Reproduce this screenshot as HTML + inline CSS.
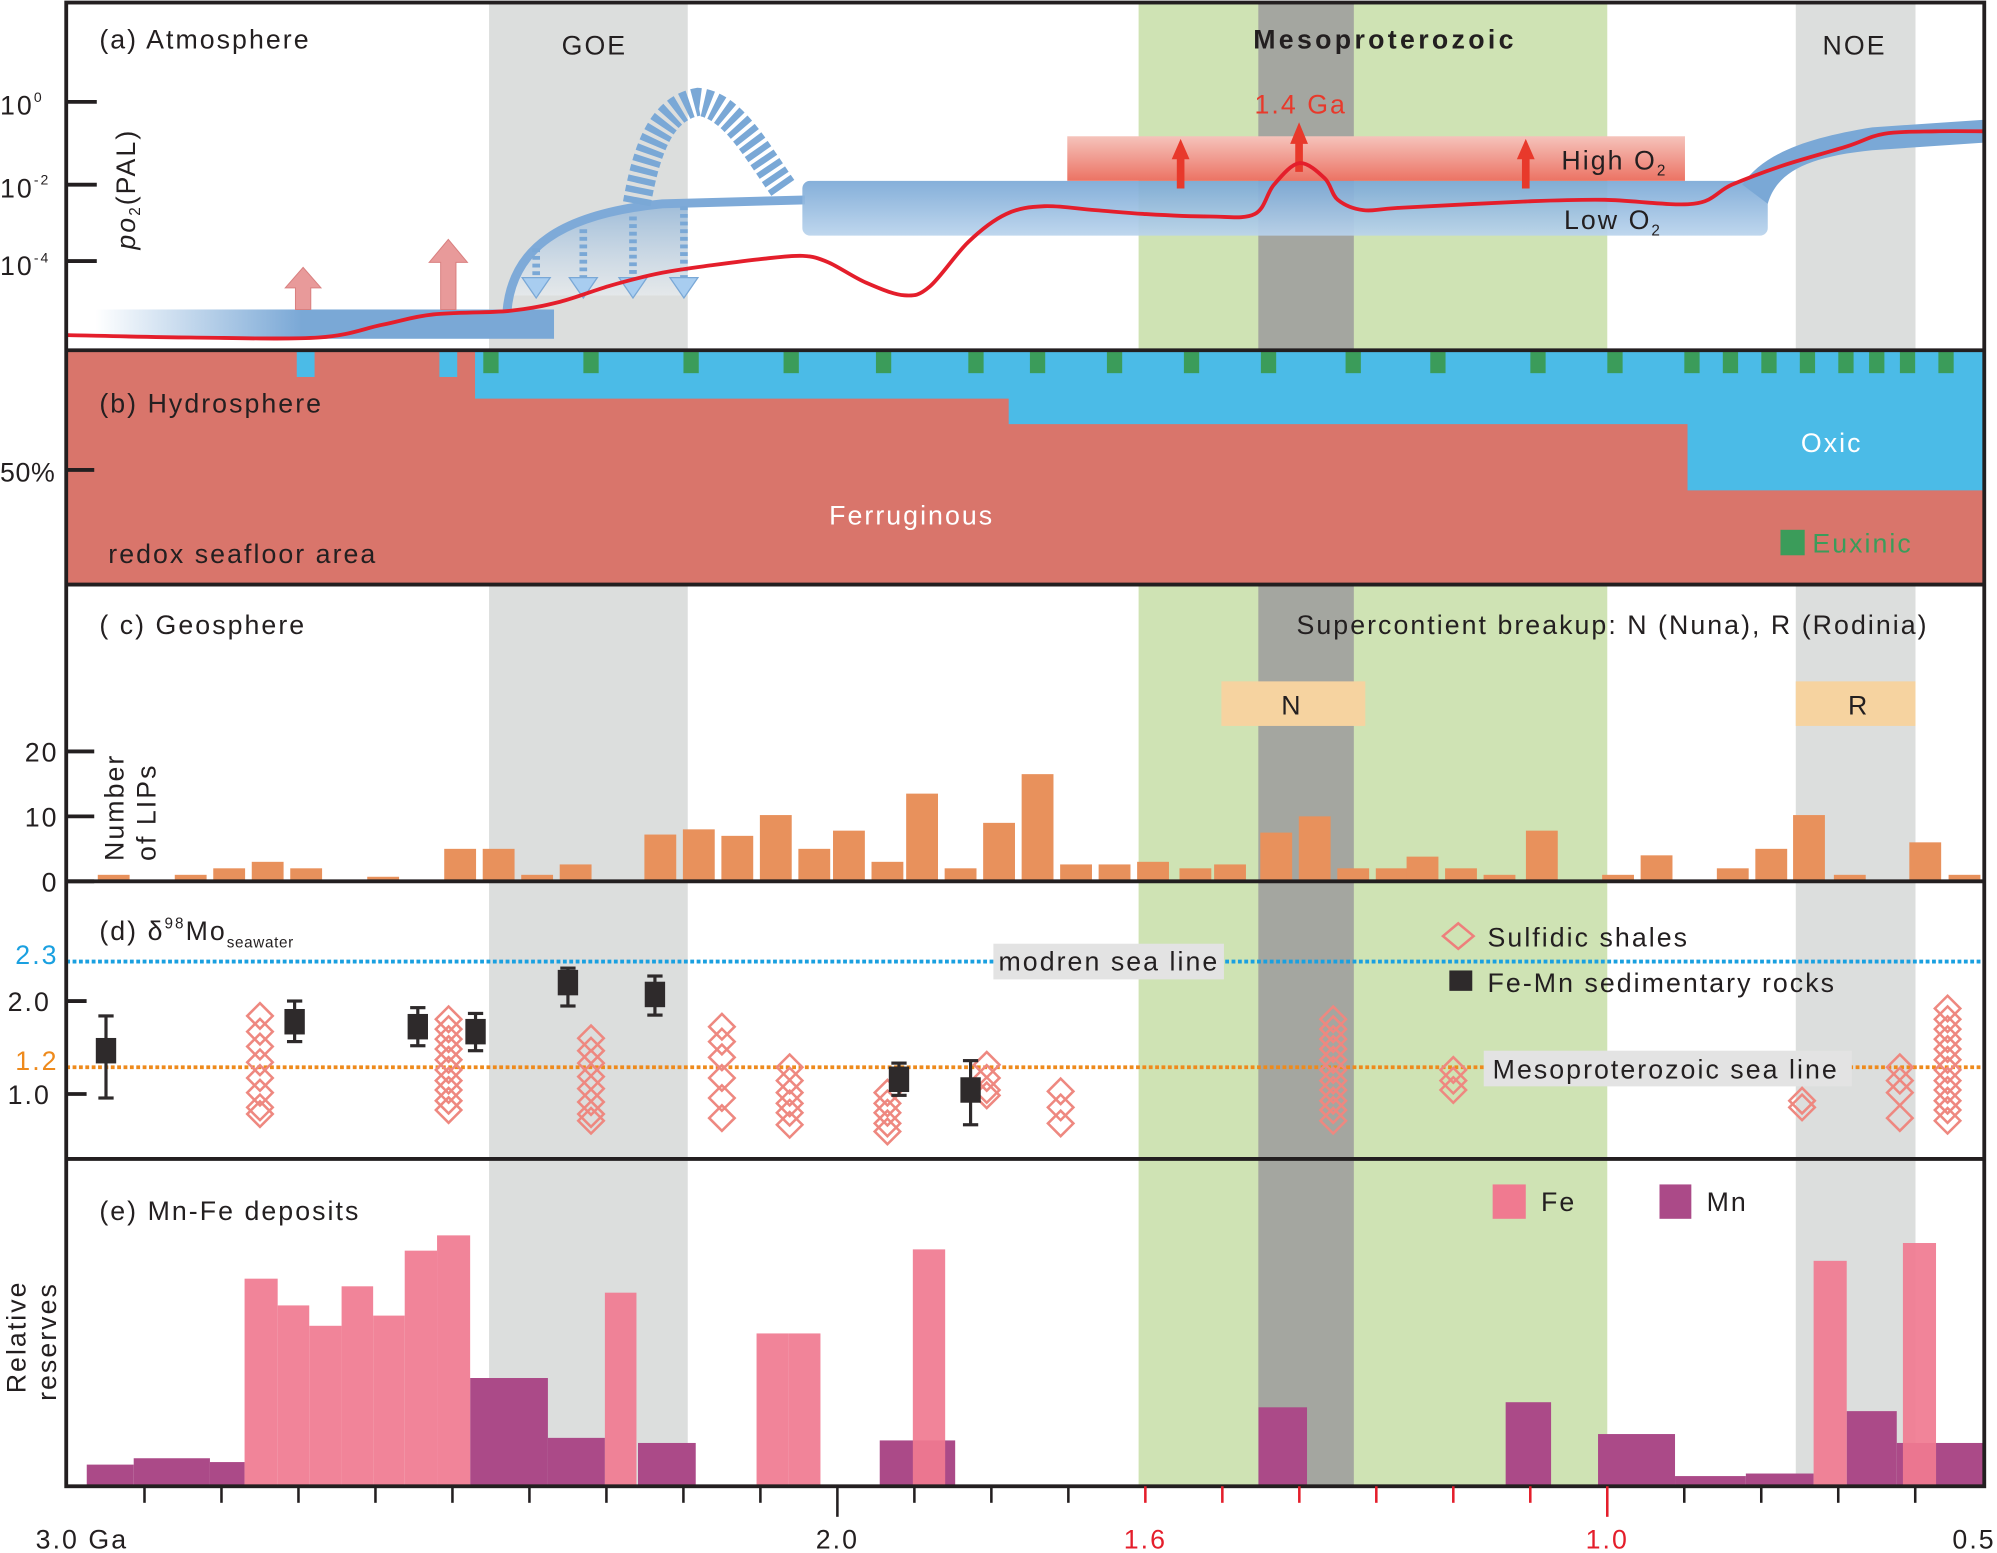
<!DOCTYPE html>
<html><head><meta charset="utf-8"><style>
html,body{margin:0;padding:0;background:#fff}
svg{display:block}
text{font-family:"Liberation Sans",sans-serif;fill:#231f20;letter-spacing:1.6px}
</style></head><body>
<svg id="fig" width="1997" height="1553" viewBox="0 0 1568 1219.4" preserveAspectRatio="none" xmlns="http://www.w3.org/2000/svg">
<defs>
<linearGradient id="gLow" x1="0" x2="1" y1="0" y2="0"><stop offset="0" stop-color="#7aa8d6" stop-opacity="0"/><stop offset="0.45" stop-color="#7aa8d6"/><stop offset="1" stop-color="#7aa8d6"/></linearGradient>
<linearGradient id="gBand" x1="0" x2="0" y1="0" y2="1"><stop offset="0" stop-color="#7aa8d6"/><stop offset="1" stop-color="#b9d3ec"/></linearGradient>
<linearGradient id="gHigh" x1="0" x2="0" y1="0" y2="1"><stop offset="0" stop-color="#f5c3bb"/><stop offset="1" stop-color="#ec7364"/></linearGradient>
<linearGradient id="gFan" x1="0" x2="0" y1="0" y2="1"><stop offset="0" stop-color="#7aa8d6" stop-opacity="0.9"/><stop offset="1" stop-color="#ffffff" stop-opacity="0.6"/></linearGradient>
</defs>
<g id="bands">
<rect x="384" y="2" width="156" height="1165" fill="#dcdedd"/>
<rect x="894" y="2" width="368" height="1165" fill="#cfe3b4"/>
<rect x="988" y="2" width="75" height="1165" fill="#a4a6a0"/>
<rect x="1410" y="2" width="94" height="1165" fill="#dcdedd"/>
</g>
<g>
<rect x="75" y="243" width="360" height="23" fill="url(#gLow)"/>
<path d="M398,243 C405,195 440,172 500,163 L540,160 L540,232 L398,232 Z" fill="url(#gFan)" opacity="0.7"/>
<path d="M398,245 C402,195 440,168 520,160 L632,157" fill="none" stroke="#7eaad8" stroke-width="7"/>
<path d="M500,160 C508,115 520,85 548,80 C575,82 595,120 615,148" fill="none" stroke="#7aa8d6" stroke-width="22" stroke-dasharray="5 3"/>
<g fill="#a8cdf0" stroke="#7aa8d6" stroke-width="1">
<path d="M410,218 L432,218 L421,234 Z"/><path d="M447,218 L469,218 L458,234 Z"/><path d="M486,218 L508,218 L497,234 Z"/><path d="M526,218 L548,218 L537,234 Z"/>
</g>
<g stroke="#7aa8d6" stroke-width="6" stroke-dasharray="3 3"><line x1="421" y1="195" x2="421" y2="218"/><line x1="458" y1="180" x2="458" y2="218"/><line x1="497" y1="170" x2="497" y2="218"/><line x1="537" y1="162" x2="537" y2="218"/></g>
<rect x="630" y="142" width="758" height="43" rx="6" fill="url(#gBand)" opacity="0.92"/>
<path d="M1368,145 C1385,120 1420,108 1470,100 L1558,94 L1558,112 L1470,118 C1420,123 1395,135 1388,160 Z" fill="#7aa8d6"/>
<rect x="838" y="107" width="485" height="35" fill="url(#gHigh)"/>
<g fill="#e89a9a" stroke="#d98080" stroke-width="0.8">
<path d="M232,243 L232,226 L224,226 L238,210 L252,226 L244,226 L244,243 Z"/>
<path d="M346,243 L346,206 L337,206 L352,188 L367,206 L358,206 L358,243 Z"/>
</g>
<g fill="#e8392b">
<path d="M924,148 L924,125 L920,125 L927,109 L934,125 L930,125 L930,148 Z"/>
<path d="M1017,135 L1017,113 L1013,113 L1020,96 L1027,113 L1023,113 L1023,135 Z"/>
<path d="M1195,148 L1195,125 L1191,125 L1198,109 L1205,125 L1201,125 L1201,148 Z"/>
</g>
<path id="o2line" fill="none" stroke="#e41e2b" stroke-width="3"/>
<text x="985" y="89" font-size="21" style="fill:#e8392b">1.4 Ga</text>
<text x="1226" y="133" font-size="21">High O<tspan font-size="12" dy="5">2</tspan></text>
<text x="1228" y="180" font-size="21">Low O<tspan font-size="12" dy="5">2</tspan></text>
<text x="78" y="38" font-size="21">(a)  Atmosphere</text>
<text x="441" y="43" font-size="21">GOE</text>
<text x="984" y="38" font-size="21" font-weight="bold" style="letter-spacing:2.6px">Mesoproterozoic</text>
<text x="1431" y="43" font-size="21">NOE</text>
<text transform="translate(106,196) rotate(-90)" font-size="21"><tspan font-style="italic">po</tspan><tspan font-size="12" dy="4">2</tspan><tspan dy="-4">(PAL)</tspan></text>
<g stroke="#231f20" stroke-width="3"><line x1="52" y1="80" x2="76" y2="80"/><line x1="52" y1="145" x2="76" y2="145"/><line x1="52" y1="205" x2="76" y2="205"/></g>
<text x="0" y="90" font-size="21">10<tspan font-size="11" dy="-10">0</tspan></text>
<text x="0" y="155" font-size="21">10<tspan font-size="11" dy="-10">-2</tspan></text>
<text x="0" y="216" font-size="21">10<tspan font-size="11" dy="-10">-4</tspan></text>
</g>
<g>
<rect x="52" y="276" width="1506" height="183" fill="#d9756b"/>
<path fill="#4bbbe7" d="M373,276 L1558,276 L1558,385 L1325,385 L1325,333 L792,333 L792,313 L373,313 Z"/>
<rect x="233" y="276" width="14" height="20" fill="#4bbbe7"/>
<rect x="345" y="276" width="14" height="20" fill="#4bbbe7"/>
<g id="euxinic" fill="#3b9c5a"></g>
<text x="78" y="324" font-size="21">(b)  Hydrosphere</text>
<text x="651" y="412" font-size="21" style="fill:#fff">Ferruginous</text>
<text x="85" y="442" font-size="21">redox seafloor area</text>
<text x="1414" y="355" font-size="21" style="fill:#fff">Oxic</text>
<rect x="1398" y="416" width="19" height="20" fill="#3b9c5a"/>
<text x="1423" y="434" font-size="21" style="fill:#3b9c5a">Euxinic</text>
<line x1="52" y1="369" x2="74" y2="369" stroke="#231f20" stroke-width="3"/>
<text x="0" y="378" font-size="21" style="letter-spacing:0.5px">50%</text>
</g>
<g>
<text x="78" y="498" font-size="21">( c)  Geosphere</text>
<text x="1018" y="498" font-size="21">Supercontient breakup:  N (Nuna), R (Rodinia)</text>
<rect x="959" y="535" width="113" height="35" fill="#f6d3a0"/>
<text x="1006" y="561" font-size="21">N</text>
<rect x="1410" y="535" width="94" height="35" fill="#f6d3a0"/>
<text x="1451" y="561" font-size="21">R</text>
<g id="lipBars" fill="#e8915c"></g>
<text transform="translate(97,676) rotate(-90)" font-size="21">Number</text>
<text transform="translate(122,676) rotate(-90)" font-size="21">of LIPs</text>
<g id="lipTicks"></g>
</g>
<g>
<text x="78" y="738" font-size="21">(d)  δ<tspan font-size="12" dy="-9">98</tspan><tspan dy="9">Mo</tspan><tspan font-size="12" dy="6" style="letter-spacing:0.5px">seawater</tspan></text>
<line id="modernLine" x1="52" x2="1558" stroke="#1aa0e0" stroke-width="3" stroke-dasharray="3 2"/>
<line id="mesoLine" x1="52" x2="1558" stroke="#ee8a1c" stroke-width="3" stroke-dasharray="3 2"/>
<rect x="780" y="741" width="181" height="28" fill="#e3e3e3"/>
<text x="784" y="762" font-size="21">modren sea line</text>
<rect x="1165" y="825" width="289" height="28" fill="#e3e3e3"/>
<text x="1172" y="847" font-size="21">Mesoproterozoic sea line</text>
<path d="M1145,725 L1157,735 L1145,745 L1133,735 Z" fill="none" stroke="#ee7f7c" stroke-width="2"/>
<text x="1168" y="743" font-size="21">Sulfidic shales</text>
<rect x="1138" y="762" width="18" height="16" fill="#2e2a2b"/>
<text x="1168" y="779" font-size="21">Fe-Mn sedimentary rocks</text>
<g id="diamonds" fill="none" stroke="#ee8880" stroke-width="2"></g>
<g id="feMnPts"></g>
<g id="moTicks"></g>
</g>
<g>
<g id="mnBars" fill="#ab4a88"></g>
<g id="feBars" fill="#f07a90" fill-opacity="0.92"></g>
<text x="78" y="958" font-size="21">(e)  Mn-Fe deposits</text>
<rect x="1172" y="930" width="26" height="27" fill="#f07a90"/>
<text x="1210" y="951" font-size="21">Fe</text>
<rect x="1303" y="930" width="25" height="27" fill="#ab4a88"/>
<text x="1340" y="951" font-size="21">Mn</text>
<text transform="translate(20,1094) rotate(-90)" font-size="21">Relative</text>
<text transform="translate(44,1100) rotate(-90)" font-size="21">reserves</text>
</g>
<g stroke="#231f20" stroke-width="3" fill="none">
<rect x="52" y="2" width="1506" height="1165"/>
<line x1="52" y1="275" x2="1558" y2="275"/>
<line x1="52" y1="459" x2="1558" y2="459"/>
<line x1="52" y1="692" x2="1558" y2="692"/>
<line x1="52" y1="910" x2="1558" y2="910"/>
</g>
<g id="xAxis"></g>
</svg>
<script>
const o2Ages=[3.0,2.84,2.674,2.591,2.525,2.426,2.36,2.294,2.227,2.161,2.095,2.045,2.012,1.963,1.913,1.88,1.83,1.781,1.731,1.665,1.599,1.516,1.458,1.433,1.4,1.367,1.35,1.317,1.268,1.103,1.003,0.888,0.838,0.772,0.689,0.64,0.573,0.51];
const o2Log=[-5.86,-5.92,-5.92,-5.6,-5.34,-5.25,-5.02,-4.61,-4.29,-4.1,-3.94,-3.87,-4.03,-4.54,-4.86,-4.64,-3.52,-2.82,-2.62,-2.72,-2.82,-2.88,-2.82,-2.08,-1.54,-1.92,-2.46,-2.72,-2.66,-2.5,-2.46,-2.56,-2.08,-1.6,-1.12,-0.8,-0.74,-0.74];
const euxinicAges=[2.45,2.32,2.19,2.06,1.94,1.82,1.74,1.64,1.54,1.44,1.33,1.22,1.09,0.99,0.89,0.84,0.79,0.74,0.69,0.65,0.61,0.56];
const lipAges=[2.94,2.84,2.79,2.74,2.69,2.59,2.49,2.44,2.39,2.34,2.23,2.18,2.13,2.08,2.03,1.985,1.935,1.89,1.84,1.79,1.74,1.69,1.64,1.59,1.535,1.49,1.43,1.38,1.33,1.28,1.24,1.19,1.14,1.085,0.986,0.936,0.837,0.787,0.738,0.685,0.587,0.536];
const lipCounts=[1,1,2,3,2,0.7,5,5,1,2.6,7.2,8,7,10.2,5,7.8,3,13.5,2,9,16.5,2.6,2.6,3,2,2.6,7.5,10,2,2,3.8,2,1,7.8,1,4,2,5,10.2,1,6,1];
const lipTickVals=[0,10,20];
const moTickVals=[1.0,2.0];
const modernSea=2.3, mesoSea=1.2;
const shaleAges=[2.75,2.505,2.32,2.15,2.062,1.935,1.806,1.71,1.356,1.2,0.747,0.62,0.558];
const shaleVals=[[1.82,1.63,1.45,1.26,1.12,1.01,0.9,0.85],[1.78,1.66,1.54,1.42,1.29,1.18,1.1,1.03,0.95,0.88],[1.55,1.4,1.25,1.13,1.04,0.94,0.85,0.8],[1.69,1.51,1.32,1.12,0.97,0.82],[1.2,1.1,1.01,0.93,0.86,0.77],[1.01,0.93,0.86,0.78,0.72],[1.23,1.12,1.03,0.99],[1.02,0.9,0.78],[1.78,1.66,1.54,1.42,1.29,1.18,1.1,1.03,0.95,0.88,0.8],[1.18,1.1,1.03],[0.95,0.9],[1.2,1.1,1.01,0.82],[1.91,1.78,1.66,1.54,1.42,1.29,1.18,1.1,1.03,0.95,0.88,0.8]];
const feMnAges=[2.95,2.705,2.545,2.47,2.35,2.237,1.92,1.827];
const feMnVals=[1.4,1.75,1.69,1.63,2.14,2.05,1.11,1.03];
const feMnLo=[0.97,1.51,1.46,1.4,1.94,1.83,0.99,0.77];
const feMnHi=[1.82,2.0,1.92,1.85,2.25,2.19,1.25,1.28];
const feFrom=[2.77,2.727,2.686,2.644,2.603,2.562,2.52,2.302,2.105,2.064,1.902,0.732,0.616];
const feTo=[2.727,2.686,2.644,2.603,2.562,2.52,2.477,2.261,2.064,2.022,1.86,0.689,0.573];
const feVals=[163,142,126,157,134,185,197,152,120,120,186,177,191];
const mnFrom=[2.975,2.914,2.815,2.477,2.376,2.259,1.945,1.453,1.132,1.012,0.912,0.82,0.689,0.624,0.573];
const mnTo=[2.914,2.815,2.77,2.376,2.302,2.184,1.847,1.39,1.073,0.912,0.82,0.732,0.624,0.573,0.51];
const mnVals=[17,22,19,85,38,34,36,62,66,41,8,10,59,34,34];
const xMinorTicks=[2.9,2.8,2.7,2.6,2.5,2.4,2.3,2.2,2.1,1.9,1.8,1.7,1.5,1.4,1.3,1.2,1.1,0.9,0.8,0.7,0.6];
const xLabels=["3.0 Ga","2.0","1.6","1.0","0.5"];
const xLabelAges=[3.0,2.0,1.6,1.0,0.5];
const NS='http://www.w3.org/2000/svg';
const xs=a=>53+(3-a)*604.5;
const yA=l=>80-31.25*l;
const yC=n=>692-5.1*n;
const dV=[0.5,1.0,1.2,2.0,2.3,2.6], dY=[911.5,859,838,786,755,724];
function yD(v){for(let i=0;i<dV.length-1;i++){if(v<=dV[i+1]||i==dV.length-2){return dY[i]+(v-dV[i])*(dY[i+1]-dY[i])/(dV[i+1]-dV[i]);}}}
const yE=r=>1167-r;
function mk(tag,attrs,parent){const e=document.createElementNS(NS,tag);for(const k in attrs)e.setAttribute(k,attrs[k]);parent.appendChild(e);return e;}
(function(){const p=o2Ages.map((a,i)=>[xs(a),yA(o2Log[i])]);let d='M'+p[0][0]+','+p[0][1];
for(let i=0;i<p.length-1;i++){const p0=p[Math.max(0,i-1)],p1=p[i],p2=p[i+1],p3=p[Math.min(p.length-1,i+2)];
const c1=[p1[0]+(p2[0]-p0[0])/6,p1[1]+(p2[1]-p0[1])/6],c2=[p2[0]-(p3[0]-p1[0])/6,p2[1]-(p3[1]-p1[1])/6];
d+=' C'+c1[0].toFixed(1)+','+c1[1].toFixed(1)+' '+c2[0].toFixed(1)+','+c2[1].toFixed(1)+' '+p2[0].toFixed(1)+','+p2[1].toFixed(1);}
document.getElementById('o2line').setAttribute('d',d);})();
const eg=document.getElementById('euxinic');
euxinicAges.forEach(a=>{const r=mk('rect',{x:xs(a)-6,y:276,width:12,height:17},eg);

});
const lg=document.getElementById('lipBars');
lipAges.forEach((a,i)=>{const r=mk('rect',{x:xs(a)-12.5,y:yC(lipCounts[i]),width:25,height:692-yC(lipCounts[i])},lg);

});
const lt=document.getElementById('lipTicks');
lipTickVals.forEach(v=>{mk('line',{x1:52,x2:74,y1:yC(v),y2:yC(v),stroke:'#231f20','stroke-width':3},lt);
const t=mk('text',{x:46,y:yC(v)+8,'font-size':21,'text-anchor':'end'},lt);t.textContent=v;

});
document.getElementById('modernLine').setAttribute('y1',yD(modernSea));
document.getElementById('modernLine').setAttribute('y2',yD(modernSea));
document.getElementById('mesoLine').setAttribute('y1',yD(mesoSea));
document.getElementById('mesoLine').setAttribute('y2',yD(mesoSea));
const mt=document.getElementById('moTicks');
moTickVals.forEach(v=>{mk('line',{x1:52,x2:68,y1:yD(v),y2:yD(v),stroke:'#231f20','stroke-width':3},mt);
const t=mk('text',{x:6,y:yD(v)+8,'font-size':21},mt);t.textContent=v.toFixed(1);

});
[[modernSea,'#1aa0e0'],[mesoSea,'#ee8a1c']].forEach(([v,c])=>{const t=mk('text',{x:12,y:yD(v)+2,'font-size':21,style:'fill:'+c},mt);t.textContent=v.toFixed(1);

});
const dg=document.getElementById('diamonds');
shaleAges.forEach((a,i)=>{shaleVals[i].forEach(v=>{const x=xs(a),y=yD(v);
const p=mk('path',{d:`M${x},${y-10} L${x+10},${y} L${x},${y+10} L${x-10},${y} Z`},dg);

});});
const fg=document.getElementById('feMnPts');
feMnAges.forEach((a,i)=>{const x=xs(a);const g=mk('g',{stroke:'#2e2a2b',fill:'#2e2a2b','stroke-width':2.5},fg);


mk('line',{x1:x,x2:x,y1:yD(feMnHi[i]),y2:yD(feMnLo[i])},g);
mk('line',{x1:x-6,x2:x+6,y1:yD(feMnHi[i]),y2:yD(feMnHi[i])},g);
mk('line',{x1:x-6,x2:x+6,y1:yD(feMnLo[i]),y2:yD(feMnLo[i])},g);
mk('rect',{x:x-8,y:yD(feMnVals[i])-10,width:16,height:20,stroke:'none'},g);});
const mg=document.getElementById('mnBars');
mnFrom.forEach((a,i)=>{const r=mk('rect',{x:xs(a),y:yE(mnVals[i]),width:xs(mnTo[i])-xs(a),height:mnVals[i]},mg);

});
const feg=document.getElementById('feBars');
feFrom.forEach((a,i)=>{const r=mk('rect',{x:xs(a),y:yE(feVals[i]),width:xs(feTo[i])-xs(a),height:feVals[i]},feg);

});
const xa=document.getElementById('xAxis');
xMinorTicks.forEach(a=>{const red=a<1.6&&a>1.0;mk('line',{x1:xs(a),x2:xs(a),y1:1167,y2:1180,stroke:red?'#e41e2b':'#231f20','stroke-width':2},xa);});
[[2.0,'#231f20'],[1.6,'#e41e2b'],[1.0,'#e41e2b']].forEach(([a,c])=>{mk('line',{x1:xs(a),x2:xs(a),y1:1167,y2:(a==1.6?1180:1191),stroke:c,'stroke-width':2},xa);});
xLabelAges.forEach((a,i)=>{const red=(a==1.6||a==1.0);let x=xs(a),anchor='middle';if(i==0){x=28;anchor='start';}if(a==0.5){x=1550;}
const t=mk('text',{x:x,y:1216,'font-size':21,'text-anchor':anchor,style:'fill:'+(red?'#e41e2b':'#231f20')},xa);t.textContent=xLabels[i];

});
</script>
</body></html>
